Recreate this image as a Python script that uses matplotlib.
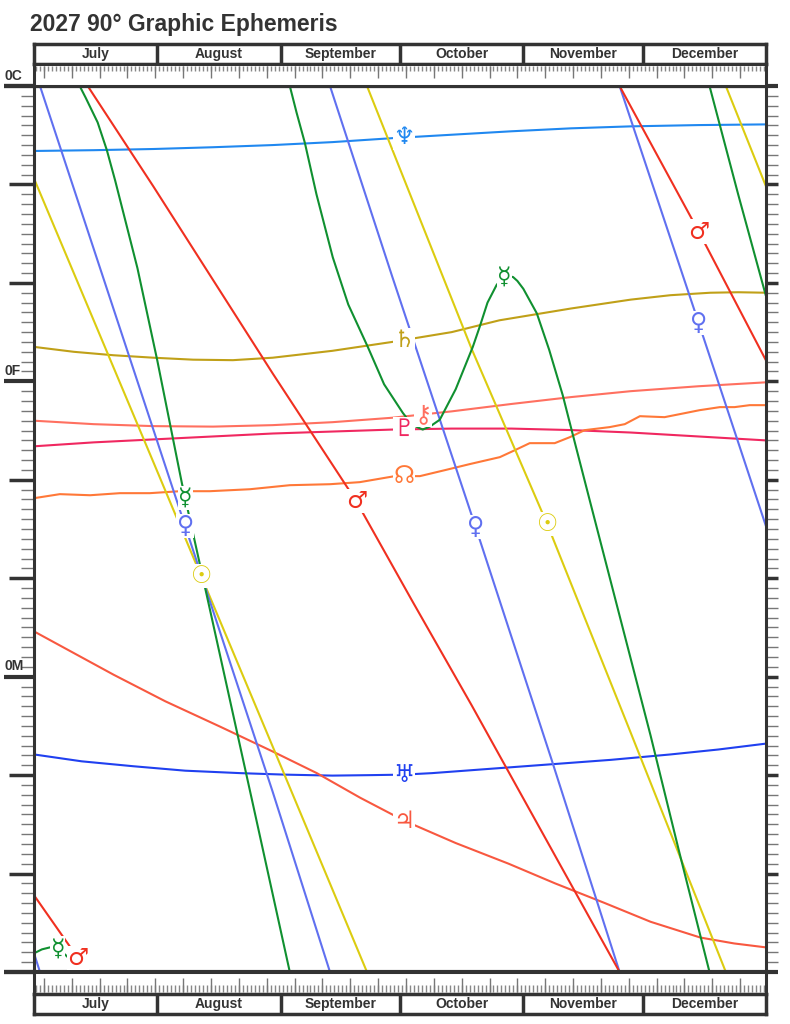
import numpy as np
import matplotlib
matplotlib.use("Agg")
import matplotlib.pyplot as plt
from matplotlib.transforms import blended_transform_factory

plt.rcParams['font.family'] = ['Liberation Sans', 'DejaVu Sans']

# --- DATOS: días desde el 1 de julio 2027, longitud en el dial de 90° (sin envolver) ---
meses = ["July", "August", "September", "October", "November", "December"]
dias_mes = [31, 31, 30, 31, 30, 31]

sol_d = [0, 30, 60, 83.7, 110, 129, 150, 173.9, 183.9]
sol_l = [9.4, 38.2, 67.1, 90, 116.7, 134.5, 155.7, 180, 190.1]

mer_d = [0, 2, 4, 6, 8, 10.5, 11.1, 13, 16, 18.3, 20.4, 26, 31, 37.2, 45, 55, 64.3,
         66, 68.1, 71, 75.1, 79, 83.9, 88, 92.7, 95, 97.7, 99.5, 102, 106, 110.3,
         112, 114, 116.3, 117.5, 118.5, 120.4, 121.5, 123, 126.4, 129.5, 132.9,
         136, 139.7, 147, 155, 162, 169.8, 177, 183.9]
mer_l = [88.1, 87.7, 87.5, 87.6, 88.3, 89.3, 89.7, 91.2, 93.7, 96.5, 99.6, 108.5,
         117.9, 130.4, 144.6, 162.9, 180, 182.7, 185.8, 191.0, 197.4, 202.2, 206.5,
         210.3, 213.2, 214.4, 214.9, 214.6, 213.9, 210.8, 206.5, 204.5, 202.0,
         200.2, 199.6, 199.3, 199.4, 199.8, 200.6, 203.1, 206.8, 211.4, 216.3,
         222.1, 233.5, 246.0, 257.5, 270, 281.0, 291.2]

ven_d = [0, 1.5, 30, 60, 74.4, 90, 111, 130, 147.2, 167.1, 183.9]
ven_l = [88.1, 90, 124.9, 161.7, 180, 199.3, 224.8, 248.3, 270, 294.1, 314.6]

mar_d = [0, 13.5, 30, 60, 80.9, 95.2, 110, 147.2, 167.1, 183.9]
mar_l = [82.2, 90, 100.2, 119.2, 132.1, 142.4, 152.9, 180, 194.8, 207.8]

jup_d = [0, 10, 20, 33, 46.9, 60, 71.1, 82, 92.9, 106, 119.3, 131, 143.5, 155,
         167.5, 176, 184]
jup_l = [55.4, 57.6, 59.8, 62.5, 65.1, 67.6, 69.8, 72.3, 74.6, 76.9, 79.0, 81.0,
         83.0, 84.9, 86.5, 87.1, 87.5]

sat_d = [0, 10, 20, 30, 40, 50, 60, 75, 90, 105, 117, 135, 150, 160, 170, 177, 184]
sat_l = [26.5, 27.0, 27.35, 27.6, 27.8, 27.85, 27.6, 26.9, 26.0, 25.0, 23.8, 22.6,
         21.7, 21.25, 21.0, 20.95, 21.0]

ura_d = [0, 12, 25, 38, 51.9, 63, 75, 85, 92.9, 100, 110, 120, 130, 145, 160, 172, 184]
ura_l = [67.9, 68.6, 69.1, 69.55, 69.8, 69.95, 70.05, 70.0, 69.95, 69.8, 69.5,
         69.2, 68.9, 68.45, 67.9, 67.4, 66.8]

nep_d = [0, 15, 30, 45, 60, 75, 90, 105, 120, 135, 150, 167, 184]
nep_l = [6.6, 6.52, 6.4, 6.22, 6.0, 5.7, 5.3, 4.95, 4.6, 4.3, 4.1, 3.97, 3.9]

plu_d = [0, 15, 30, 45, 60, 75, 90, 105, 120, 135, 150, 167, 184]
plu_l = [36.6, 36.2, 35.9, 35.6, 35.3, 35.1, 34.9, 34.8, 34.8, 34.95, 35.2, 35.6, 36.0]

qui_d = [0, 15, 30, 45, 60, 75, 90, 105, 120, 135, 150, 167, 184]
qui_l = [34.0, 34.35, 34.55, 34.6, 34.45, 34.15, 33.7, 33.05, 32.3, 31.6, 31.0,
         30.5, 30.1]

nod_d = [0, 6.5, 14.1, 21.6, 29.1, 36.7, 44.2, 54.3, 64.3, 74.4, 81.9, 90.7, 97.0,
         103.3, 109.5, 117.1, 120.9, 124.6, 130.9, 134.7, 138.4, 144.7, 148.5,
         152.3, 158.5, 163.6, 167.3, 172.4, 176.1, 179.9, 183.9]
nod_l = [41.87, 41.46, 41.57, 41.36, 41.36, 41.16, 41.16, 40.96, 40.55, 40.45,
         40.24, 39.63, 39.63, 39.02, 38.41, 37.70, 36.99, 36.28, 36.28, 35.67,
         34.96, 34.65, 34.35, 33.54, 33.64, 33.23, 32.93, 32.62, 32.62, 32.42, 32.42]

# (nombre, días, longitudes, color, glifo, días de las etiquetas)
cuerpos = [
    ("nep", nep_d, nep_l, "#2088f0", "♆", [93]),
    ("sat", sat_d, sat_l, "#c0a018", "♄", [93]),
    ("qui", qui_d, qui_l, "#ff7060", "⚷", [97.7]),
    ("plu", plu_d, plu_l, "#f02860", "♇", [93]),
    ("nod", nod_d, nod_l, "#ff7838", "☊", [93]),
    ("ura", ura_d, ura_l, "#2040f0", "♅", [93]),
    ("jup", jup_d, jup_l, "#f85840", "♃", [93]),
    ("sol", sol_d, sol_l, "#dccc10", "☉", [42, 129]),
    ("ven", ven_d, ven_l, "#6070f0", "♀", [38, 111, 167.1]),
    ("mer", mer_d, mer_l, "#109030", "☿", [6, 38, 118.2]),
    ("mar", mar_d, mar_l, "#f03020", "♂", [11, 81, 167.1]),
]


def envolver(d, l):
    """Parte la curva cuando cruza 0/90 del dial"""
    xs, ys = [d[0]], [l[0] % 90]
    for i in range(1, len(d)):
        d0, l0, d1, l1 = d[i - 1], l[i - 1], d[i], l[i]
        k0, k1 = np.floor(l0 / 90), np.floor(l1 / 90)
        if k0 != k1:
            b = max(k0, k1) * 90
            dc = d0 + (b - l0) / (l1 - l0) * (d1 - d0)
            if l1 > l0:
                xs += [dc, np.nan, dc]; ys += [90, np.nan, 0]
            else:
                xs += [dc, np.nan, dc]; ys += [0, np.nan, 90]
        xs.append(d1); ys.append(l1 - k1 * 90)
    return xs, ys


W, H = 790, 1024
fig = plt.figure(figsize=(W / 100, H / 100), dpi=100)
X0, X1 = 34, 766
TOT = sum(dias_mes)
OSC = "#333333"


def caja(y_top, y_bot):
    return fig.add_axes([X0 / W, 1 - y_bot / H, (X1 - X0) / W, (y_bot - y_top) / H])


ax = caja(86, 972)
ax.set_xlim(0, TOT)
ax.set_ylim(90, 0)
ax.set_xticks([]); ax.set_yticks([])
for s in ax.spines.values():
    s.set_color(OSC); s.set_linewidth(2.2)

for nombre, d, l, c, g, etq in cuerpos:
    xs, ys = envolver(d, l)
    ax.plot(xs, ys, color=c, lw=1.5, zorder=2, solid_joinstyle='round')
    for de in etq:
        yv = np.interp(de, d, l) % 90
        ax.text(de, yv, g, color=c, fontsize=17, family=['DejaVu Sans'],
                ha='center', va='center', zorder=4,
                bbox=dict(fc='white', ec='none', pad=0.1))

# marcas del dial
bt = blended_transform_factory(ax.transAxes, ax.transData)
px = 1 / (X1 - X0)
grados = np.arange(0, 91)
menores = [g for g in grados if g % 10]
decenas = [g for g in grados if g % 10 == 0 and g % 30]
treintas = [g for g in grados if g % 30 == 0]
ax.hlines(menores, -13 * px, 0, transform=bt, color="#777777", lw=1, clip_on=False)
ax.hlines(decenas, -25 * px, 0, transform=bt, color=OSC, lw=2.5, clip_on=False)
ax.hlines(treintas, -30 * px, 0, transform=bt, color=OSC, lw=3, clip_on=False)
ax.hlines(menores, 1, 1 + 12 * px, transform=bt, color="#777777", lw=1, clip_on=False)
ax.hlines(decenas + [30, 60], 1, 1 + 12 * px, transform=bt, color=OSC, lw=2.5, clip_on=False)
ax.hlines([0, 90], -30 * px, 1 + 12 * px, transform=bt, color=OSC, lw=3, clip_on=False)
for g, t in zip([0, 30, 60], ["0C", "0F", "0M"]):
    ax.text(-30 * px, g - 0.35, t, transform=bt, fontsize=10, weight='bold',
            color=OSC, ha='left', va='bottom')

# bandas de días y meses
limites = np.cumsum([0] + dias_mes)
dias = np.arange(TOT) + 0.5
largos = np.arange(2, TOT, 7) + 0.5


def banda_dias(y_top, y_bot, arriba):
    b = caja(y_top, y_bot)
    b.set_xlim(0, TOT); b.set_ylim(0, 1)
    b.set_xticks([]); b.set_yticks([])
    for s in b.spines.values():
        s.set_color(OSC); s.set_linewidth(2.2)
    if arriba:
        b.vlines(dias, 0.68, 0.9, color="#888888", lw=1)
        b.vlines(largos, 0.38, 0.9, color="#777777", lw=1)
    else:
        b.vlines(dias, 0.1, 0.4, color="#888888", lw=1)
        b.vlines(largos, 0.1, 0.72, color="#777777", lw=1)


def banda_meses(y_top, y_bot):
    b = caja(y_top, y_bot)
    b.set_xlim(0, TOT); b.set_ylim(0, 1)
    b.set_xticks([]); b.set_yticks([])
    for s in b.spines.values():
        s.set_color(OSC); s.set_linewidth(2.5)
    b.vlines(limites[1:-1], 0, 1, color=OSC, lw=2.5)
    for i, m in enumerate(meses):
        b.text((limites[i] + limites[i + 1]) / 2, 0.48, m, ha='center', va='center',
               fontsize=10, weight='bold', color=OSC)


banda_meses(44, 64)
banda_dias(64, 86, True)
banda_dias(972, 994, False)
banda_meses(994, 1014)

fig.text(30 / W, 1 - 25 / H, "2027 90° Graphic Ephemeris", fontsize=16.5,
         weight='bold', color=OSC, ha='left', va='center')

fig.savefig("out.png", dpi=100)
